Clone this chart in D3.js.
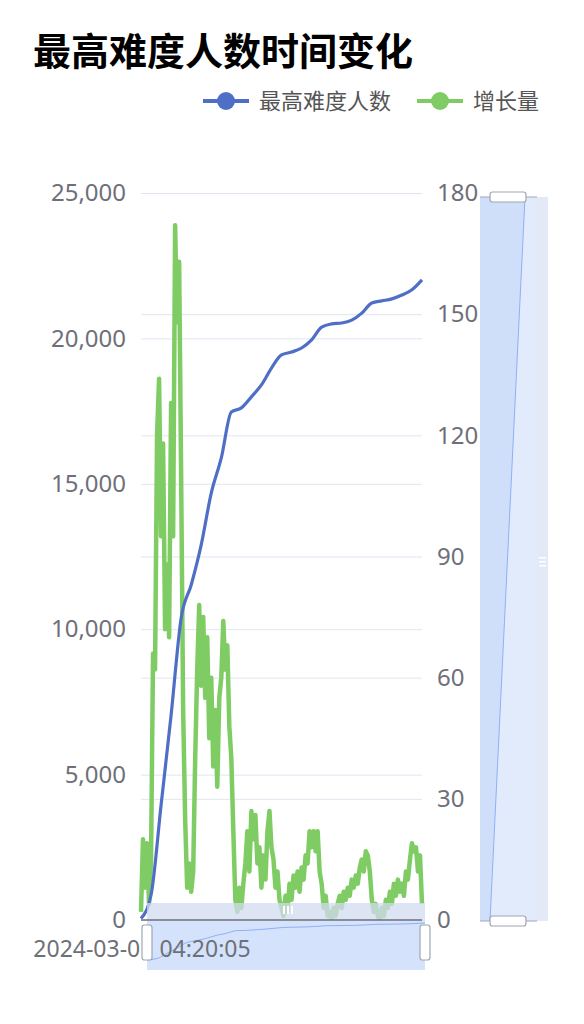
<!DOCTYPE html>
<html>
<head>
<meta charset="utf-8">
<script src="https://cdn.jsdelivr.net/npm/d3@7"></script>
<style>
  body { margin: 0; background: #fff; }
  svg { display: block; font-family: "Noto Sans CJK SC", "Noto Sans", sans-serif; }
</style>
</head>
<body>
<div id="viz"></div>
<script>
// chart data
const title = "最高难度人数时间变化";
const seriesNames = ["最高难度人数", "增长量"];
const startLabel = "2024-03-01 04:20:05";

// 增长量, one value per sample
const growth = [
  2, 20, 8, 19, 4, 15, 66, 62, 120, 134,
  95, 118, 72, 88, 70, 128, 95, 172, 148, 163,
  110, 52, 25, 8, 14, 7, 12, 40, 62, 78,
  58, 75, 55, 70, 45, 60, 38, 52, 33, 55,
  60, 74, 62, 68, 48, 40, 22, 5, 2, 8,
  3, 9, 14, 22, 12, 27, 20, 26, 14, 18,
  8, 16, 10, 22, 27, 18, 15, 8, 12, 5,
  3, 1, 6, 2, 9, 5, 11, 8, 12, 7,
  13, 10, 16, 14, 22, 18, 22, 17, 22, 12,
  9, 3, 6, 1, 2, 0, 3, 1, 4, 6,
  3, 7, 5, 8, 6, 10, 8, 11, 9, 13,
  15, 12, 17, 16, 12, 5, 2, 4, 1, 0,
  3, 1, 5, 3, 7, 4, 9, 6, 10, 7,
  9, 6, 12, 10, 15, 19, 17, 18, 12, 16,
  4
];

// 最高难度人数, one value every 5 samples
const totalStep = 5;
const total = [
  50, 860, 3950, 7050, 10380, 11520, 12900, 14680, 15890, 17470,
  17610, 17990, 18400, 18980, 19430, 19530, 19670, 19950, 20390, 20500,
  20530, 20630, 20870, 21220, 21290, 21360, 21490, 21670, 22010
];

const leftTicks = [0, 5000, 10000, 15000, 20000, 25000];
const rightTicks = [0, 30, 60, 90, 120, 150, 180];

const W = 584, H = 1024;
const plot = {left: 141, right: 422, top: 193, bottom: 920};
const blue = "#4f6fc6", green = "#7fcc64";
const labelColor = "#6e7079";
const numFont = "'Noto Sans', sans-serif";

const svg = d3.select("#viz").append("svg")
  .attr("width", W).attr("height", H);

// scales
const x = d3.scaleLinear().domain([0, growth.length - 1]).range([plot.left, plot.right]);
const yL = d3.scaleLinear().domain([0, 25000]).range([plot.bottom, plot.top]);
const yR = d3.scaleLinear().domain([0, 180]).range([plot.bottom, plot.top]);

// title
svg.append("text")
  .attr("x", 33).attr("y", 65)
  .attr("font-size", 38).attr("font-weight", "bold")
  .attr("fill", "#000")
  .text(title);

// legend
const legend = [
  {name: seriesNames[0], color: blue, x: 203},
  {name: seriesNames[1], color: green, x: 417}
];
legend.forEach(l => {
  const g = svg.append("g").attr("transform", "translate(" + l.x + ",101)");
  g.append("line").attr("x1", 0).attr("x2", 46)
    .attr("stroke", l.color).attr("stroke-width", 4);
  g.append("circle").attr("cx", 23).attr("r", 9).attr("fill", l.color);
  g.append("text").attr("x", 56).attr("y", 8)
    .attr("font-size", 22).attr("fill", "#555")
    .text(l.name);
});

// grid from both y axes
[[yL, leftTicks], [yR, rightTicks]].forEach(([s, t]) => {
  svg.append("g")
    .attr("transform", "translate(" + plot.left + ",0)")
    .call(d3.axisRight(s).tickValues(t).tickSize(plot.right - plot.left).tickFormat(""))
    .call(g => g.select(".domain").remove())
    .call(g => g.selectAll("line").attr("stroke", "#dfe5f0"));
});

// left axis labels
svg.append("g")
  .attr("transform", "translate(" + plot.left + ",0)")
  .call(d3.axisLeft(yL).tickValues(leftTicks).tickSize(0).tickPadding(15).tickFormat(d3.format(",")))
  .call(g => g.select(".domain").remove())
  .call(g => g.selectAll("text").attr("font-size", 24).attr("fill", labelColor)
    .attr("font-family", numFont));

// right axis labels
svg.append("g")
  .attr("transform", "translate(" + plot.right + ",0)")
  .call(d3.axisRight(yR).tickValues(rightTicks).tickSize(0).tickPadding(15))
  .call(g => g.select(".domain").remove())
  .call(g => g.selectAll("text").attr("font-size", 24).attr("fill", labelColor)
    .attr("font-family", numFont));

// series
svg.append("path")
  .datum(growth)
  .attr("fill", "none")
  .attr("stroke", green)
  .attr("stroke-width", 4.5)
  .attr("stroke-linejoin", "round")
  .attr("d", d3.line().x((d, i) => x(i)).y(d => yR(d)));

svg.append("path")
  .datum(total)
  .attr("fill", "none")
  .attr("stroke", blue)
  .attr("stroke-width", 3.2)
  .attr("d", d3.line().curve(d3.curveMonotoneX).x((d, i) => x(i * totalStep)).y(d => yL(d)));

// bottom slider (x dataZoom)
const sl = {left: 147, right: 425, top: 903, mid: 920, bottom: 970};
svg.append("rect")
  .attr("x", sl.left).attr("y", sl.top)
  .attr("width", sl.right - sl.left).attr("height", sl.mid - sl.top)
  .attr("fill", "#d2dbef").attr("fill-opacity", 0.75);
svg.append("rect")
  .attr("x", sl.left).attr("y", sl.mid)
  .attr("width", sl.right - sl.left).attr("height", sl.bottom - sl.mid)
  .attr("fill", "#d4e3fb");

// x axis line
svg.append("line")
  .attr("x1", plot.left).attr("x2", plot.right)
  .attr("y1", plot.bottom).attr("y2", plot.bottom)
  .attr("stroke", labelColor).attr("stroke-width", 1.5);

// slider data shadow
const xs = d3.scaleLinear().domain([0, growth.length - 1]).range([sl.left, sl.right]);
const ys = d3.scaleLinear().domain([0, d3.max(total)]).range([sl.bottom - 10, sl.mid + 3]);
svg.append("path")
  .datum(total)
  .attr("fill", "none")
  .attr("stroke", "#8fb0f7")
  .attr("stroke-width", 1)
  .attr("d", d3.line().curve(d3.curveMonotoneX).x((d, i) => xs(i * totalStep)).y(d => ys(d)));

// move handle marks
[283, 287, 291].forEach(px => {
  svg.append("rect").attr("x", px).attr("y", 906).attr("width", 2).attr("height", 8)
    .attr("fill", "#fff");
});

// x label, clipped on the left like the reference
svg.append("clipPath").attr("id", "xclip")
  .append("rect").attr("x", 33).attr("y", 920).attr("width", 400).attr("height", 60);
svg.append("text")
  .attr("clip-path", "url(#xclip)")
  .attr("x", 142).attr("y", 957)
  .attr("text-anchor", "middle")
  .attr("font-size", 23).attr("fill", labelColor)
  .attr("font-family", numFont)
  .text(startLabel);

// slider handles
[sl.left, sl.right].forEach(px => {
  svg.append("rect")
    .attr("x", px - 5).attr("y", 925).attr("width", 10).attr("height", 35)
    .attr("rx", 2.5)
    .attr("fill", "#fff").attr("stroke", "#a0a6b4").attr("stroke-width", 1.2);
});

// right slider (y dataZoom)
const rs = {left: 480, right: 537, strip: 548, top: 197, bottom: 921};
svg.append("rect")
  .attr("x", rs.right).attr("y", rs.top).attr("width", rs.strip - rs.right).attr("height", rs.bottom - rs.top)
  .attr("fill", "#e3e9f6");
svg.append("rect")
  .attr("x", rs.left).attr("y", rs.top).attr("width", rs.right - rs.left).attr("height", rs.bottom - rs.top)
  .attr("fill", "#e2ebfc");
svg.append("path")
  .attr("d", "M" + rs.left + "," + rs.bottom + "L490," + rs.bottom + "L525," + rs.top + "L" + rs.left + "," + rs.top + "Z")
  .attr("fill", "#cfdffa");
svg.append("line")
  .attr("x1", 490).attr("y1", rs.bottom).attr("x2", 525).attr("y2", rs.top)
  .attr("stroke", "#8fb0f7").attr("stroke-width", 1);
svg.append("line")
  .attr("x1", rs.left).attr("x2", rs.right).attr("y1", rs.top).attr("y2", rs.top)
  .attr("stroke", "#a0a6b4").attr("stroke-width", 1);
svg.append("line")
  .attr("x1", rs.left).attr("x2", rs.right).attr("y1", rs.bottom).attr("y2", rs.bottom)
  .attr("stroke", "#a0a6b4").attr("stroke-width", 1);
[557, 561, 565].forEach(py => {
  svg.append("rect").attr("x", 539).attr("y", py).attr("width", 7).attr("height", 1.5)
    .attr("fill", "#fff");
});
[rs.top, rs.bottom].forEach(py => {
  svg.append("rect")
    .attr("x", 490).attr("y", py - 5).attr("width", 36).attr("height", 10)
    .attr("rx", 2.5)
    .attr("fill", "#fff").attr("stroke", "#a0a6b4").attr("stroke-width", 1.2);
});
</script>
</body>
</html>
